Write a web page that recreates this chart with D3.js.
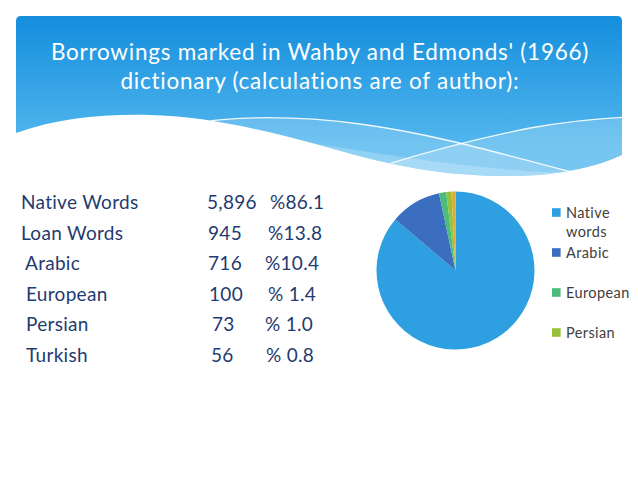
<!DOCTYPE html>
<html>
<head>
<meta charset="utf-8">
<script src="https://cdn.jsdelivr.net/npm/d3@7"></script>
<style>
  html, body { margin: 0; padding: 0; background: #fff; }
  svg { display: block; }
</style>
</head>
<body>
<svg id="chart" width="638" height="478"></svg>
<script>
// ---------- data ----------
const titleLines = ["Borrowings marked in Wahby and Edmonds' (1966)", "dictionary (calculations are of author):"];
const categories = ["Native words", "Arabic", "European", "Persian", "Turkish"];
const counts = [5896, 716, 100, 73, 56];
const legendLabels = ["Native words", "Arabic", "European", "Persian"];
const tableLabels = ["Native Words", "Loan Words", "Arabic", "European", "Persian", "Turkish"];
const tableCounts = ["5,896", "945", "716", "100", "73", "56"];
const tablePercents = ["%86.1", "%13.8", "%10.4", "% 1.4", "% 1.0", "% 0.8"];

// ---------- layout / style ----------
const W = 638, H = 478;
const FONT = "Lato, 'Open Sans', sans-serif";
const colors = ["#2e9fe0", "#3b6ebf", "#4cbc7c", "#98c13b", "#dcae38"];
const labelIndent = [0, 0, 4, 5, 5, 5];
const countX = [207, 208, 208, 209, 212, 211];
const pctX = [270, 268, 265, 268, 265, 266];

const svg = d3.select("#chart");
const defs = svg.append("defs");

// header gradient
const grad = defs.append("linearGradient").attr("id", "hdr")
  .attr("gradientUnits", "userSpaceOnUse")
  .attr("x1", 0).attr("y1", 16).attr("x2", 0).attr("y2", 150);
grad.append("stop").attr("offset", "0%").attr("stop-color", "#148edd");
grad.append("stop").attr("offset", "100%").attr("stop-color", "#55b8ee");

// header shape: rounded top, wavy bottom
const hdrPath = "M16,21 Q16,16 21,16 L617,16 Q622,16 622,21 L622,155 " +
  "C600,165 570,174 520,176 C450,177 400,168 330,148 C260,128 200,116 150,115 C100,114 60,118 16,133 Z";
defs.append("clipPath").attr("id", "hdrClip").append("path").attr("d", hdrPath);

const hdr = svg.append("g");
hdr.append("path").attr("d", hdrPath).attr("fill", "url(#hdr)");
const bands = hdr.append("g").attr("clip-path", "url(#hdrClip)");
bands.append("path")
  .attr("d", "M180,124 C240,116 300,116 360,124 C420,132 470,145 571,172 L571,200 L180,200 Z")
  .attr("fill", "#ffffff").attr("opacity", 0.18);
bands.append("path")
  .attr("d", "M200,125 C280,138 350,150 424,160 C470,166 520,172 571,173 L571,200 L200,200 Z")
  .attr("fill", "#ffffff").attr("opacity", 0.22);
bands.append("path")
  .attr("d", "M392,162 C430,151 480,138 530,128 C570,121 600,118 640,117 L640,200 L392,200 Z")
  .attr("fill", "#ffffff").attr("opacity", 0.2);
bands.append("path")
  .attr("d", "M190,123 C240,116 300,116 360,124 C420,132 470,145 575,173")
  .attr("fill", "none").attr("stroke", "#ffffff").attr("stroke-width", 1.3).attr("opacity", 0.9);
bands.append("path")
  .attr("d", "M385,165 C430,151 480,138 530,128 C570,121 600,118 630,117")
  .attr("fill", "none").attr("stroke", "#ffffff").attr("stroke-width", 1.3).attr("opacity", 0.9);

// title
svg.append("g").selectAll("text").data(titleLines).join("text")
  .attr("x", 320).attr("y", (d, i) => 60 + i * 29)
  .attr("text-anchor", "middle")
  .attr("font-family", FONT).attr("font-size", 22.5)
  .attr("letter-spacing", 0.75)
  .attr("fill", "#ffffff")
  .text(d => d);

// table
const rowY = d3.scalePoint().domain(d3.range(tableLabels.length)).range([209, 362]);
const tbl = svg.append("g").attr("font-family", FONT).attr("font-size", 19)
  .attr("letter-spacing", 0.3).attr("fill", "#1f3b70");
tbl.selectAll("text.lbl").data(tableLabels).join("text").attr("class", "lbl")
  .attr("x", (d, i) => 21 + labelIndent[i]).attr("y", (d, i) => rowY(i)).text(d => d);
tbl.selectAll("text.cnt").data(tableCounts).join("text").attr("class", "cnt")
  .attr("x", (d, i) => countX[i]).attr("y", (d, i) => rowY(i)).text(d => d);
tbl.selectAll("text.pct").data(tablePercents).join("text").attr("class", "pct")
  .attr("x", (d, i) => pctX[i]).attr("y", (d, i) => rowY(i)).text(d => d);

// pie
const cx = 455.5, cy = 270.5, R = 79;
const pie = d3.pie().sort(null).value(d => d.v);
const arc = d3.arc().innerRadius(0).outerRadius(R);
const pieData = pie(categories.map((c, i) => ({ c, v: counts[i] })));
svg.append("g").attr("transform", `translate(${cx},${cy})`)
  .selectAll("path").data(pieData).join("path")
  .attr("d", arc)
  .attr("fill", (d, i) => colors[i]);

// legend
const legY = d3.scalePoint().domain(d3.range(legendLabels.length)).range([212.5, 332.5]);
const leg = svg.append("g").attr("font-family", FONT).attr("font-size", 14.5)
  .attr("letter-spacing", 0.4).attr("fill", "#404040");
const items = leg.selectAll("g").data(legendLabels).join("g")
  .attr("transform", (d, i) => `translate(552,${legY(i)})`);
items.append("rect").attr("x", 0).attr("y", -4.3).attr("width", 8.6).attr("height", 8.6)
  .attr("fill", (d, i) => colors[i]);
items.append("text").attr("x", 14).attr("y", 5)
  .each(function (d) {
    const words = d.split(" ");
    const t = d3.select(this);
    if (d.length > 8 && words.length > 1) {
      words.forEach((w, k) => t.append("tspan").attr("x", 14).attr("dy", k === 0 ? 0 : 19).text(w));
    } else {
      t.text(d);
    }
  });
</script>
</body>
</html>
